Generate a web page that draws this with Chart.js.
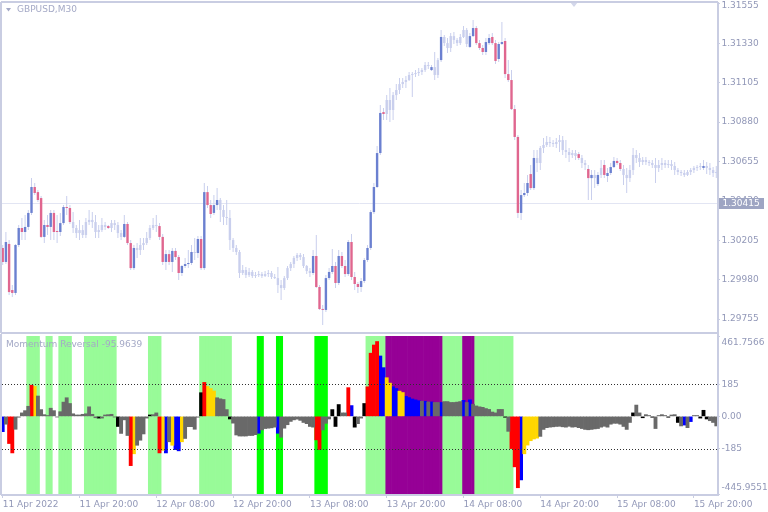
<!DOCTYPE html>
<html>
<head>
<meta charset="utf-8">
<script src="https://cdn.jsdelivr.net/npm/chart.js@4.4.1/dist/chart.umd.min.js"></script>
<style>
  html, body { margin: 0; padding: 0; background: #ffffff; }
  #wrap { position: relative; width: 768px; height: 512px; overflow: hidden; background: #ffffff; }
  canvas { position: absolute; left: 0; }
  #price { top: 0; }
  #momentum { top: 334px; }
</style>
</head>
<body>
<div id="wrap">
  <canvas id="price" width="768" height="334"></canvas>
  <canvas id="momentum" width="768" height="178"></canvas>
</div>
<script>
// ---- price panel data (GBPUSD, M30, one entry per bar) ----
const symbolTitle = 'GBPUSD,M30';
const timeLabels = ['11 Apr 2022', '11 Apr 20:00', '12 Apr 08:00', '12 Apr 20:00', '13 Apr 08:00',
    '13 Apr 20:00', '14 Apr 08:00', '14 Apr 20:00', '15 Apr 08:00', '15 Apr 20:00'];
const labelStep = 24; // bars between time labels
const priceTicks = [1.29755, 1.29980, 1.30205, 1.30430, 1.30655, 1.30880, 1.31105, 1.31330, 1.31555];
const priceMin = 1.29681;
const priceMax = 1.31560;
const currentPrice = 1.30415;

const open = [
    1.30161, 1.30081, 1.30184, 1.29921, 1.29904, 1.30178, 1.30275, 1.30252, 1.30281, 1.30361,
    1.30509, 1.30480, 1.30446, 1.30224, 1.30292, 1.30281, 1.30361, 1.30258, 1.30252, 1.30303,
    1.30395, 1.30389, 1.30309, 1.30275, 1.30246, 1.30263, 1.30235, 1.30309, 1.30321, 1.30309,
    1.30252, 1.30263, 1.30292, 1.30286, 1.30275, 1.30303, 1.30292, 1.30246, 1.30224, 1.30298,
    1.30189, 1.30046, 1.30161, 1.30149, 1.30178, 1.30189, 1.30218, 1.30275, 1.30292, 1.30286,
    1.30224, 1.30081, 1.30126, 1.30081, 1.30144, 1.30109, 1.30018, 1.30058, 1.30069, 1.30075,
    1.30138, 1.30132, 1.30212, 1.30046, 1.30480, 1.30406, 1.30361, 1.30406, 1.30435, 1.30378,
    1.30338, 1.30332, 1.30206, 1.30161, 1.30138, 1.30018, 1.30035, 1.30006, 1.30024, 1.30001,
    1.30006, 1.30012, 1.30001, 1.30012, 1.30018, 1.29995, 1.29989, 1.29949, 1.29932, 1.29989,
    1.30046, 1.30069, 1.30104, 1.30121, 1.30109, 1.30058, 1.30029, 1.30018, 1.30115, 1.29938,
    1.29812, 1.29807, 1.29989, 1.30024, 1.30058, 1.29961, 1.30115, 1.30058, 1.30012, 1.30195,
    1.29995, 1.29955, 1.29938, 1.29972, 1.30092, 1.30161, 1.30366, 1.30509, 1.30703, 1.30937,
    1.30926, 1.31006, 1.30949, 1.31034, 1.31063, 1.31097, 1.31109, 1.31120, 1.31149, 1.31154,
    1.31160, 1.31166, 1.31177, 1.31206, 1.31177, 1.31194, 1.31149, 1.31234, 1.31366, 1.31331,
    1.31303, 1.31371, 1.31349, 1.31331, 1.31366, 1.31406, 1.31309, 1.31371, 1.31417, 1.31331,
    1.31303, 1.31280, 1.31331, 1.31366, 1.31331, 1.31240, 1.31326, 1.31343, 1.31154, 1.31120,
    1.30954, 1.30795, 1.30361, 1.30463, 1.30475, 1.30583, 1.30503, 1.30675, 1.30646, 1.30732,
    1.30749, 1.30766, 1.30760, 1.30755, 1.30766, 1.30777, 1.30720, 1.30709, 1.30692, 1.30703,
    1.30697, 1.30675, 1.30646, 1.30612, 1.30560, 1.30578, 1.30526, 1.30578, 1.30635, 1.30572,
    1.30589, 1.30623, 1.30658, 1.30646, 1.30612, 1.30578, 1.30560, 1.30606, 1.30692, 1.30675,
    1.30652, 1.30663, 1.30652, 1.30646, 1.30635, 1.30618, 1.30635, 1.30646, 1.30635, 1.30640,
    1.30629, 1.30606, 1.30595, 1.30589, 1.30578, 1.30595, 1.30606, 1.30618, 1.30623, 1.30618,
    1.30629, 1.30618, 1.30606, 1.30589
];
const high = [
    1.30178, 1.30252, 1.30206, 1.29949, 1.30184, 1.30292, 1.30332, 1.30349, 1.30378, 1.30560,
    1.30532, 1.30492, 1.30458, 1.30321, 1.30349, 1.30378, 1.30378, 1.30349, 1.30361, 1.30406,
    1.30458, 1.30406, 1.30366, 1.30292, 1.30321, 1.30292, 1.30332, 1.30378, 1.30366, 1.30349,
    1.30292, 1.30332, 1.30309, 1.30292, 1.30321, 1.30321, 1.30309, 1.30263, 1.30349, 1.30309,
    1.30206, 1.30178, 1.30189, 1.30218, 1.30218, 1.30252, 1.30292, 1.30332, 1.30349, 1.30303,
    1.30241, 1.30149, 1.30149, 1.30161, 1.30161, 1.30121, 1.30064, 1.30104, 1.30149, 1.30178,
    1.30218, 1.30229, 1.30229, 1.30532, 1.30515, 1.30435, 1.30463, 1.30503, 1.30446, 1.30406,
    1.30435, 1.30378, 1.30218, 1.30178, 1.30149, 1.30064, 1.30052, 1.30046, 1.30035, 1.30024,
    1.30029, 1.30024, 1.30029, 1.30035, 1.30029, 1.30012, 1.30052, 1.29978, 1.30001, 1.30058,
    1.30081, 1.30115, 1.30132, 1.30132, 1.30126, 1.30064, 1.30046, 1.30149, 1.30235, 1.29949,
    1.29835, 1.30006, 1.30046, 1.30155, 1.30081, 1.30149, 1.30138, 1.30092, 1.30206, 1.30241,
    1.30024, 1.29966, 1.29989, 1.30104, 1.30178, 1.30378, 1.30532, 1.30743, 1.30977, 1.30960,
    1.31034, 1.31074, 1.31052, 1.31097, 1.31131, 1.31131, 1.31143, 1.31166, 1.31166, 1.31177,
    1.31189, 1.31189, 1.31223, 1.31223, 1.31206, 1.31280, 1.31246, 1.31406, 1.31377, 1.31360,
    1.31389, 1.31394, 1.31360, 1.31383, 1.31429, 1.31417, 1.31389, 1.31463, 1.31429, 1.31349,
    1.31320, 1.31360, 1.31383, 1.31389, 1.31349, 1.31337, 1.31451, 1.31360, 1.31234, 1.31177,
    1.30977, 1.30806, 1.30492, 1.30532, 1.30578, 1.30635, 1.30720, 1.30720, 1.30743, 1.30789,
    1.30800, 1.30795, 1.30777, 1.30789, 1.30806, 1.30800, 1.30777, 1.30732, 1.30720, 1.30720,
    1.30709, 1.30692, 1.30663, 1.30635, 1.30606, 1.30606, 1.30595, 1.30663, 1.30663, 1.30618,
    1.30646, 1.30680, 1.30675, 1.30663, 1.30635, 1.30618, 1.30635, 1.30732, 1.30720, 1.30703,
    1.30680, 1.30680, 1.30663, 1.30663, 1.30675, 1.30663, 1.30675, 1.30663, 1.30663, 1.30663,
    1.30652, 1.30618, 1.30606, 1.30606, 1.30606, 1.30618, 1.30629, 1.30635, 1.30646, 1.30663,
    1.30652, 1.30646, 1.30623, 1.30629
];
const low = [
    1.30064, 1.30069, 1.29892, 1.29881, 1.29892, 1.30166, 1.30206, 1.30206, 1.30263, 1.30349,
    1.30463, 1.30423, 1.30218, 1.30189, 1.30235, 1.30206, 1.30206, 1.30189, 1.30229, 1.30292,
    1.30349, 1.30298, 1.30246, 1.30218, 1.30206, 1.30218, 1.30218, 1.30292, 1.30275, 1.30218,
    1.30218, 1.30252, 1.30263, 1.30269, 1.30252, 1.30263, 1.30218, 1.30206, 1.30218, 1.30178,
    1.30035, 1.30035, 1.30104, 1.30121, 1.30149, 1.30178, 1.30206, 1.30263, 1.30252, 1.30206,
    1.30064, 1.30035, 1.30064, 1.30024, 1.30092, 1.29978, 1.30001, 1.30046, 1.30046, 1.30064,
    1.30092, 1.30104, 1.30035, 1.30035, 1.30389, 1.30332, 1.30349, 1.30378, 1.30309, 1.30292,
    1.30292, 1.30149, 1.30138, 1.30121, 1.29989, 1.30006, 1.29989, 1.29995, 1.29989, 1.29989,
    1.29995, 1.29989, 1.29995, 1.29995, 1.29984, 1.29984, 1.29904, 1.29864, 1.29921, 1.29978,
    1.30029, 1.30046, 1.30086, 1.30092, 1.30046, 1.30012, 1.29995, 1.30006, 1.29932, 1.29807,
    1.29721, 1.29795, 1.29978, 1.30012, 1.29932, 1.29949, 1.30046, 1.29995, 1.30001, 1.29978,
    1.29921, 1.29904, 1.29909, 1.29961, 1.30081, 1.30149, 1.30355, 1.30503, 1.30692, 1.30892,
    1.30892, 1.30880, 1.30892, 1.31006, 1.31040, 1.31074, 1.31074, 1.31114, 1.31023, 1.31137,
    1.31143, 1.31149, 1.31166, 1.31183, 1.31171, 1.31120, 1.31131, 1.31223, 1.31314, 1.31274,
    1.31280, 1.31326, 1.31314, 1.31320, 1.31360, 1.31309, 1.31303, 1.31366, 1.31320, 1.31291,
    1.31263, 1.31263, 1.31320, 1.31320, 1.31211, 1.31223, 1.31320, 1.31131, 1.31109, 1.30949,
    1.30777, 1.30332, 1.30321, 1.30452, 1.30458, 1.30492, 1.30492, 1.30595, 1.30606, 1.30703,
    1.30737, 1.30737, 1.30737, 1.30732, 1.30709, 1.30692, 1.30675, 1.30652, 1.30675, 1.30663,
    1.30663, 1.30618, 1.30606, 1.30435, 1.30435, 1.30503, 1.30515, 1.30560, 1.30560, 1.30538,
    1.30578, 1.30618, 1.30635, 1.30600, 1.30520, 1.30475, 1.30538, 1.30578, 1.30646, 1.30623,
    1.30635, 1.30635, 1.30629, 1.30618, 1.30532, 1.30595, 1.30606, 1.30618, 1.30618, 1.30606,
    1.30578, 1.30578, 1.30572, 1.30566, 1.30572, 1.30578, 1.30589, 1.30600, 1.30606, 1.30606,
    1.30583, 1.30578, 1.30566, 1.30560
];
const close = [
    1.30081, 1.30195, 1.29909, 1.29904, 1.30178, 1.30275, 1.30252, 1.30281, 1.30361, 1.30509,
    1.30475, 1.30435, 1.30224, 1.30292, 1.30281, 1.30361, 1.30252, 1.30252, 1.30303, 1.30395,
    1.30389, 1.30309, 1.30275, 1.30246, 1.30263, 1.30235, 1.30309, 1.30321, 1.30309, 1.30252,
    1.30263, 1.30292, 1.30281, 1.30275, 1.30303, 1.30292, 1.30246, 1.30224, 1.30298, 1.30189,
    1.30046, 1.30161, 1.30149, 1.30178, 1.30189, 1.30218, 1.30275, 1.30292, 1.30286, 1.30224,
    1.30081, 1.30126, 1.30081, 1.30144, 1.30109, 1.30018, 1.30058, 1.30069, 1.30075, 1.30138,
    1.30132, 1.30212, 1.30046, 1.30480, 1.30406, 1.30355, 1.30406, 1.30435, 1.30378, 1.30338,
    1.30332, 1.30206, 1.30161, 1.30138, 1.30018, 1.30035, 1.30006, 1.30024, 1.30001, 1.30006,
    1.30012, 1.30001, 1.30012, 1.30018, 1.29995, 1.29989, 1.29949, 1.29932, 1.29989, 1.30046,
    1.30069, 1.30104, 1.30121, 1.30109, 1.30058, 1.30029, 1.30018, 1.30115, 1.29938, 1.29812,
    1.29807, 1.29989, 1.30024, 1.30058, 1.29961, 1.30115, 1.30058, 1.30012, 1.30195, 1.29995,
    1.29955, 1.29938, 1.29972, 1.30092, 1.30161, 1.30366, 1.30509, 1.30703, 1.30932, 1.30926,
    1.31006, 1.30949, 1.31034, 1.31063, 1.31097, 1.31109, 1.31120, 1.31149, 1.31154, 1.31160,
    1.31166, 1.31177, 1.31206, 1.31200, 1.31194, 1.31149, 1.31234, 1.31366, 1.31331, 1.31303,
    1.31371, 1.31349, 1.31331, 1.31366, 1.31406, 1.31326, 1.31371, 1.31417, 1.31331, 1.31303,
    1.31280, 1.31337, 1.31360, 1.31331, 1.31229, 1.31326, 1.31337, 1.31154, 1.31120, 1.30954,
    1.30795, 1.30361, 1.30463, 1.30475, 1.30532, 1.30503, 1.30675, 1.30646, 1.30732, 1.30749,
    1.30766, 1.30760, 1.30755, 1.30766, 1.30777, 1.30720, 1.30709, 1.30692, 1.30703, 1.30686,
    1.30675, 1.30646, 1.30635, 1.30560, 1.30578, 1.30560, 1.30578, 1.30618, 1.30578, 1.30589,
    1.30623, 1.30658, 1.30646, 1.30612, 1.30578, 1.30560, 1.30606, 1.30692, 1.30675, 1.30652,
    1.30663, 1.30652, 1.30646, 1.30635, 1.30618, 1.30635, 1.30646, 1.30635, 1.30640, 1.30629,
    1.30606, 1.30595, 1.30589, 1.30578, 1.30595, 1.30606, 1.30618, 1.30623, 1.30629, 1.30629,
    1.30618, 1.30606, 1.30589, 1.30595
];
// bars whose candle body is painted by the indicator (first, last bar index)
const paintedRanges = [[0, 21], [33, 33], [38, 41], [49, 59], [61, 67], [97, 119], [134, 134],
    [137, 137], [146, 166], [180, 180], [183, 184], [186, 186], [188, 193], [219, 219]];

// ---- indicator panel data ----
const indicatorTitle = 'Momentum Reversal -95.9639';
const momentum = [
    -88, -45, -156, -210, -74, -5, 20, 33, 58, 179,
    172, 117, 39, 10, 5, 47, 33, -4, 27, 82,
    107, 74, 15, 8, 8, 12, 15, 55, 12, -8,
    -10, -10, 8, 10, 12, -4, -58, -98, -20, -110,
    -283, -215, -166, -137, -101, -10, 8, 10, 20, -210,
    -195, -210, -146, -166, -191, -198, -146, -127, -59, -59,
    -74, -5, 136, 195, 172, 160, 146, 107, 101, 97,
    39, -15, -39, -107, -113, -113, -113, -110, -110, -105,
    -97, -78, -70, -68, -66, -62, -97, -120, -68, -48,
    -29, -20, -16, -23, -35, -42, -58, -62, -135, -190,
    -78, -40, -15, 39, -58, 68, 20, 20, 165, 62,
    -62, -42, -10, 74, 170, 363, 410, 430, 347, 280,
    222, 191, 170, 160, 145, 137, 115, 108, 100, 95,
    90, 87, 87, 83, 83, 80, 80, 80, 85, 85,
    80, 80, 82, 85, 92, 80, 95, 70, 60, 55,
    52, 45, 40, 25, 20, 40, 40, -5, -86, -185,
    -290, -410, -365, -215, -165, -140, -130, -125, -115, -75,
    -65, -62, -60, -58, -57, -60, -62, -57, -62, -60,
    -65, -70, -75, -77, -75, -72, -70, -62, -57, -62,
    -45, -40, -40, -45, -58, -75, -35, 20, 65, 20,
    -8, 10, 5, -5, -70, 5, 10, 5, -5, 8,
    10, -35, -55, -50, -65, -30, 5, 5, -10, 35,
    -15, -25, -35, -55
];
// g gray, r red, y gold, b blue, k black
const momentumStates =
    'bgrrgggggr' + 'yggggggggg' + 'gggggggggg' + 'kgggggkggg' + 'ryggggkggr' +
    'ybgybbyggg' + 'ggkryyyggg' + 'gkgggggggg' + 'bgggggbggg' + 'ggggggggrr' +
    'gggkkkggrb' + 'kggkrrrrbb' + 'yybbyybbbb' + 'bgbgbggbgg' + 'ggggbgbggg' +
    'gggggggkgr' + 'rrbyyyyygg' + 'gggggggggg' + 'gggggggggg' + 'gggggggkgg' +
    'kggkggggkg' + 'gkgbgbggkk' + 'kggg';
const levels = [185, -185];
const momentumMin = -445.9551;
const momentumMax = 461.7566;
const momentumTicks = [-445.9551, -185, 0, 185, 461.7566];
// background sessions (first, last bar index, kind)
const zoneRanges = [[8, 11, 'soft'], [14, 15, 'soft'], [18, 21, 'soft'], [26, 35, 'soft'],
    [46, 49, 'soft'], [62, 71, 'soft'], [80, 81, 'lime'], [86, 87, 'lime'], [98, 101, 'lime'],
    [114, 119, 'soft'], [120, 137, 'purple'], [138, 143, 'soft'], [144, 147, 'purple'],
    [148, 159, 'soft']];

// ---- styles ----
const TEXT = '#9298b8';
const FRAME = '#c9cde2';
const CANDLE_LIGHT = '#c9cfed';
const CANDLE_BULL = '#6b80d0';
const CANDLE_BEAR = '#e0668f';
const STATE_COLORS = { g: '#696969', r: '#ff0000', y: '#ffd700', b: '#0000ff', k: '#000000' };
const ZONE_COLORS = { soft: '#98fb98', lime: '#00ff00', purple: '#960096' };
const FONT = "'DejaVu Sans', 'Liberation Sans', sans-serif";

Chart.defaults.font.family = FONT;
Chart.defaults.font.size = 9;
Chart.defaults.color = TEXT;

const barCount = close.length;
const bars = close.map((_, i) => i);
const X_MIN = -0.22;
const X_MAX = barCount - 0.78;

const painted = bars.map(i => paintedRanges.some(([a, b]) => i >= a && i <= b));
const bodyColors = bars.map(i => {
    if (!painted[i]) return CANDLE_LIGHT;
    return close[i] >= open[i] ? CANDLE_BULL : CANDLE_BEAR;
});
const zoneOf = bars.map(i => {
    const hit = zoneRanges.find(([a, b]) => i >= a && i <= b);
    return hit ? hit[2] : null;
});
const states = momentumStates.split('');

function barAxis (showLabels) {
    return {
        type: 'linear',
        min: X_MIN,
        max: X_MAX,
        offset: false,
        display: showLabels,
        afterBuildTicks: scale => {
            scale.ticks = timeLabels.map((_, k) => ({ value: k * labelStep }));
        },
        afterFit: scale => {
            scale.height = showLabels ? 18 : 0;
            scale.paddingLeft = 0;
            scale.paddingRight = 0;
        },
        grid: { offset: false, drawOnChartArea: false, drawTicks: true, tickLength: 4, color: FRAME },
        border: { display: false },
        ticks: {
            autoSkip: false,
            maxRotation: 0,
            minRotation: 0,
            align: 'start',
            padding: 1,
            color: TEXT,
            callback: (value, index) => timeLabels[index]
        }
    };
}

function valueAxis (min, max, tickValues, format) {
    return {
        position: 'right',
        min: min,
        max: max,
        afterBuildTicks: scale => {
            scale.ticks = tickValues.map(v => ({ value: v }));
        },
        afterFit: scale => {
            scale.width = 51;
            scale.paddingTop = 0;
            scale.paddingBottom = 0;
        },
        grid: { drawOnChartArea: false, drawTicks: true, tickLength: 3, color: FRAME },
        border: { display: false },
        ticks: { autoSkip: false, padding: 1.5, color: TEXT, callback: format }
    };
}

// keep the outermost axis labels inside the panel, as the terminal does
const clampLabels = {
    id: 'clampLabels',
    beforeDraw (chart, args, opts) {
        const area = chart.chartArea;
        chart.scales.y.getLabelItems(area).forEach(item => {
            const t = item.options.translation;
            t[1] = Math.min(Math.max(t[1], area.top + opts.top), area.bottom - opts.bottom);
        });
    }
};

const frame = {
    id: 'frame',
    afterDraw (chart, args, opts) {
        const { ctx, chartArea: a } = chart;
        const left = a.left - 1;
        const right = a.right + 1;
        const top = opts.top ? a.top - 1 : 0;
        const bottom = a.bottom + 1;
        ctx.save();
        ctx.strokeStyle = FRAME;
        ctx.lineWidth = 2;
        ctx.beginPath();
        ctx.moveTo(left, bottom);
        ctx.lineTo(left, top);
        ctx.moveTo(right, top);
        ctx.lineTo(right, bottom + 1);
        if (opts.top) {
            ctx.moveTo(left, top);
            ctx.lineTo(right, top);
        }
        ctx.moveTo(left, bottom);
        ctx.lineTo(right, bottom);
        ctx.stroke();
        ctx.restore();
    }
};

const caption = {
    id: 'caption',
    afterDraw (chart, args, opts) {
        const ctx = chart.ctx;
        ctx.save();
        ctx.fillStyle = opts.color;
        ctx.font = '9px ' + FONT;
        ctx.textBaseline = 'middle';
        ctx.textAlign = 'left';
        if (opts.marker) {
            ctx.beginPath();
            ctx.moveTo(6, opts.y - 2);
            ctx.lineTo(11, opts.y - 2);
            ctx.lineTo(8.5, opts.y + 1.5);
            ctx.closePath();
            ctx.fill();
        }
        ctx.fillText(opts.text, opts.x, opts.y);
        ctx.restore();
    }
};

const priceLine = {
    id: 'priceLine',
    beforeDatasetsDraw (chart) {
        const { ctx, chartArea: a } = chart;
        const y = Math.round(chart.scales.y.getPixelForValue(currentPrice)) + 0.5;
        ctx.save();
        ctx.strokeStyle = '#e2e5f3';
        ctx.lineWidth = 1;
        ctx.beginPath();
        ctx.moveTo(a.left, y);
        ctx.lineTo(a.right, y);
        ctx.stroke();
        // chart shift marker
        const sx = a.left + (a.right - a.left) * 0.8;
        ctx.fillStyle = '#d3d7ea';
        ctx.beginPath();
        ctx.moveTo(sx - 4, a.top - 1);
        ctx.lineTo(sx + 4, a.top - 1);
        ctx.lineTo(sx, a.top + 4);
        ctx.closePath();
        ctx.fill();
        ctx.restore();
    },
    afterDraw (chart) {
        const { ctx, chartArea: a } = chart;
        const y = chart.scales.y.getPixelForValue(currentPrice);
        ctx.save();
        ctx.fillStyle = '#9ea5c3';
        ctx.fillRect(a.right + 2, Math.round(y) - 5, 45, 11);
        ctx.fillStyle = '#ffffff';
        ctx.font = '9px ' + FONT;
        ctx.textBaseline = 'middle';
        ctx.fillText(currentPrice.toFixed(5), a.right + 5.5, y + 0.5);
        ctx.restore();
    }
};

const levelLines = {
    id: 'levelLines',
    afterDatasetsDraw (chart) {
        const { ctx, chartArea: a } = chart;
        ctx.save();
        ctx.strokeStyle = '#303030';
        ctx.lineWidth = 1;
        ctx.setLineDash([1, 2]);
        levels.forEach(level => {
            const y = Math.round(chart.scales.y.getPixelForValue(level)) + 0.5;
            ctx.beginPath();
            ctx.moveTo(a.left, y);
            ctx.lineTo(a.right, y);
            ctx.stroke();
        });
        ctx.restore();
    }
};

// ---- price chart: candles as wick + body floating bars ----
new Chart(document.getElementById('price'), {
    type: 'bar',
    data: {
        datasets: [
            {
                label: 'body',
                data: bars.map(i => ({ x: i, y: [open[i], close[i]] })),
                backgroundColor: bodyColors,
                barThickness: 2.4,
                minBarLength: 1,
                inflateAmount: 0,
                grouped: false,
                order: 1
            },
            {
                label: 'wick',
                data: bars.map(i => ({ x: i, y: [low[i], high[i]] })),
                backgroundColor: CANDLE_LIGHT,
                barThickness: 1,
                inflateAmount: 0,
                grouped: false,
                order: 2
            }
        ]
    },
    options: {
        responsive: false,
        animation: false,
        events: [],
        layout: { padding: { left: 2, top: 3, right: 0, bottom: 2 } },
        scales: {
            x: barAxis(false),
            y: valueAxis(priceMin, priceMax, priceTicks, v => v.toFixed(5))
        },
        plugins: {
            legend: { display: false },
            tooltip: { enabled: false },
            clampLabels: { top: 3, bottom: 0 },
            frame: { top: true },
            caption: { text: symbolTitle, x: 17, y: 10, color: '#a4a9c6', marker: true }
        }
    },
    plugins: [clampLabels, frame, caption, priceLine]
});

// ---- indicator chart: colored histogram over session zones ----
const stateDatasets = Object.keys(STATE_COLORS).map(code => ({
    label: code,
    data: bars.map(i => ({ x: i, y: states[i] === code ? momentum[i] : null })),
    backgroundColor: STATE_COLORS[code],
    barPercentage: 1,
    categoryPercentage: 1,
    grouped: false,
    order: 1
}));
const zoneDatasets = Object.keys(ZONE_COLORS).map(kind => ({
    label: kind,
    data: bars.map(i => ({ x: i, y: zoneOf[i] === kind ? [momentumMin, momentumMax] : null })),
    backgroundColor: ZONE_COLORS[kind],
    barPercentage: 1,
    categoryPercentage: 1,
    grouped: false,
    order: 5
}));

new Chart(document.getElementById('momentum'), {
    type: 'bar',
    data: { datasets: stateDatasets.concat(zoneDatasets) },
    options: {
        responsive: false,
        animation: false,
        events: [],
        layout: { padding: { left: 2, top: 2, right: 0, bottom: 0 } },
        scales: {
            x: barAxis(true),
            y: valueAxis(momentumMin, momentumMax, momentumTicks,
                v => (v === 0 ? '0.00' : String(v)))
        },
        plugins: {
            legend: { display: false },
            tooltip: { enabled: false },
            clampLabels: { top: 7, bottom: 6 },
            frame: { top: false },
            caption: { text: indicatorTitle, x: 6, y: 11, color: '#a4a9c6', marker: false }
        }
    },
    plugins: [clampLabels, frame, caption, levelLines]
});
</script>
</body>
</html>
